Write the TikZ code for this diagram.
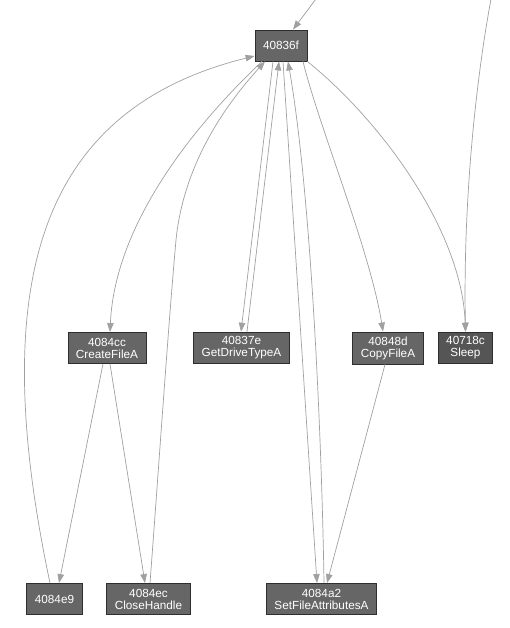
\documentclass[tikz,border=0pt]{standalone}
\usepackage{fontspec}
\setmainfont{Liberation Sans}
\usetikzlibrary{arrows.meta}
\definecolor{boxfill}{HTML}{666666}
\definecolor{boxfilldark}{HTML}{555555}
\definecolor{boxline}{HTML}{2E2E2E}
\definecolor{edgecol}{HTML}{A0A0A0}
\tikzset{
  fn/.style={draw=boxline, line width=0.9pt, fill=boxfill, text=white,
    inner xsep=8pt, inner ysep=4.5pt, minimum height=31pt, align=center,
    font=\fontsize{11.75}{12}\selectfont},
  fndark/.style={fn, fill=boxfilldark},
  edge/.style={draw=edgecol, line width=0.7pt,
    -{Triangle[length=9pt,width=6.5pt,fill=edgecol]}},
}
\begin{document}
\begin{tikzpicture}[x=1pt,y=-1pt]
\useasboundingbox (0,0) rectangle (510,628);
\node[fn] (f) at (281,45.5) {40836f};
\node[fn] (cc) at (107,348) {4084cc\\CreateFileA};
\node[fn] (dt) at (241.5,348) {40837e\\GetDriveTypeA};
\node[fn] (cp) at (388,348) {40848d\\CopyFileA};
\node[fndark] (sl) at (465.5,348) {40718c\\Sleep};
\node[fn] (e9) at (54.5,599) {4084e9};
\node[fn] (ec) at (148.5,599) {4084ec\\CloseHandle};
\node[fn] (a2) at (321.5,599) {4084a2\\SetFileAttributesA};
\coordinate (topA) at (316,-1);
\coordinate (topB) at (491,-1);
% incoming from outside
\draw[edge] (topA) -- ([xshift=12pt]f.north);
\draw[edge] (topB) .. controls (476,80) and (463,200) .. (sl.north);
% 40836f -> CreateFileA
\draw[edge] ([xshift=-19pt]f.south) .. controls (200,120) and (115,220) .. ([xshift=3pt]cc.north);
% 4084e9 -> 40836f
\draw[edge] ([xshift=-4.5pt]e9.north) .. controls (-10,300) and (28,112) .. ([yshift=-10.5pt]f.west);
% CloseHandle -> 40836f
\draw[edge] ([xshift=1.5pt]ec.north) .. controls (160,450) and (168,330) .. (176,240)
  .. controls (184,160) and (230,100) .. ([xshift=-16pt]f.south);
% 40836f <-> GetDriveTypeA
\draw[edge] ([xshift=-8pt]f.south) -- ([xshift=-0.5pt]dt.north);
\draw[edge] ([xshift=5.5pt]dt.north) -- ([xshift=-2pt]f.south);
% 40836f <-> SetFileAttributesA
\draw[edge] ([xshift=2pt]f.south) -- ([xshift=-4.5pt]a2.north);
\draw[edge] ([xshift=2.5pt]a2.north) .. controls (322,450) and (312,200) .. ([xshift=7pt]f.south);
% 40836f -> CopyFileA
\draw[edge] ([xshift=22pt]f.south) .. controls (320,130) and (370,250) .. ([xshift=-5pt]cp.north);
% 40836f -> Sleep
\draw[edge] (f.south east) .. controls (380,120) and (462,230) .. (sl.north);
% CreateFileA -> 4084e9, CloseHandle
\draw[edge] ([xshift=-4pt]cc.south) -- ([xshift=4.5pt]e9.north);
\draw[edge] ([xshift=3pt]cc.south) -- ([xshift=-3.5pt]ec.north);
% CopyFileA -> SetFileAttributesA
\draw[edge] ([xshift=-3pt]cp.south) -- ([xshift=5.5pt]a2.north);
\end{tikzpicture}
\end{document}
